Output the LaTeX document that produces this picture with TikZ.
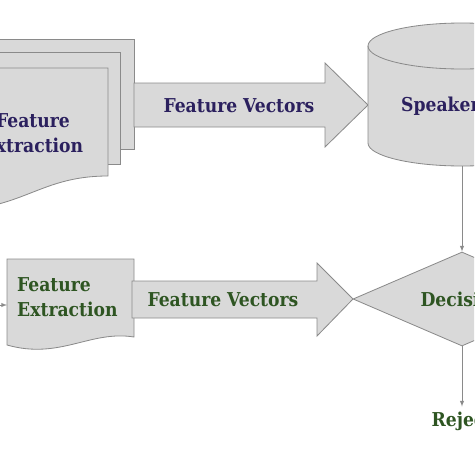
\documentclass[tikz,border=0pt]{standalone}
\usepackage{fontspec}
\setmainfont{DejaVu Serif Condensed}
\usepackage{tikz}
\usetikzlibrary{shapes.geometric}
\usetikzlibrary{arrows}
\definecolor{boxfill}{HTML}{D9D9D9}
\definecolor{boxline}{HTML}{8A8A8A}
\definecolor{enrolltext}{HTML}{2B205E}
\definecolor{testtext}{HTML}{2E5522}
\tikzset{
  flow_text/.style = {font=\fontsize{16.3}{21}\selectfont\bfseries, inner sep=0pt},
  enroll_text/.style = {flow_text, text=enrolltext},% phase d'enrolement
  test_text/.style = {flow_text, text=testtext},% phase de test
  sheet/.style = {draw=boxline, fill=boxfill, line width=0.7pt},
  decision_node/.style = {sheet, diamond, aspect=2.3, inner sep=0pt,
    minimum width=6.54cm, minimum height=2.82cm, test_text},% losange
  flow_arrow/.style = {draw=boxline, line width=0.7pt, -latex}
}
\begin{document}
\begin{tikzpicture}[x=0.03cm, y=-0.03cm]
  \useasboundingbox (0,0) rectangle (474,474);
  \clip (0,0) rectangle (474,474);
  % enrolement
  \draw[sheet] (-60,39) rectangle (134,149);
  \draw[sheet] (-60,52) rectangle (120,164);
  \draw[sheet] (-60,68) -- (108,68) -- (108,176)
    .. controls (50,176) and (30,200) .. (-20,208) -- (-60,210) -- cycle;
  \node[enroll_text, align=center] (enroll_fe) at (33,133) {Feature\\Extraction};
  \draw[sheet] (134,83) -- (325,83) -- (325,63) -- (368,105) -- (325,147)
    -- (325,127) -- (134,127) -- cycle;
  \node[enroll_text] (enroll_fv) at (239,106) {Feature Vectors};
  \draw[sheet] (368,46) -- (368,143) arc[start angle=180, end angle=0, x radius=94, y radius=23]
    -- (556,46) arc[start angle=0, end angle=-180, x radius=94, y radius=23] -- cycle;
  \draw[sheet, fill=none] (368,46) arc[start angle=180, end angle=0, x radius=94, y radius=23];
  \node[enroll_text, anchor=base west] (models) at (401,111) {Speaker Models};
  \coordinate (models_out) at (462,166);
  % test
  \draw[sheet] (7,259) -- (134,259) -- (134,337)
    .. controls (90,330) and (60,360) .. (7,345) -- cycle;
  \node[test_text, align=left, anchor=west] (test_fe) at (17,297) {Feature\\Extraction};
  \coordinate (test_in) at (-10,305);
  \coordinate (test_doc) at (7,305);
  \draw[sheet] (132,281) -- (317,281) -- (317,263) -- (353,299) -- (317,336)
    -- (317,318) -- (132,318) -- cycle;
  \node[test_text] (test_fv) at (223,300) {Feature Vectors};
  \node[decision_node] (decision) at (462,299) {Decision};
  \node[test_text, anchor=base, inner sep=4pt] (reject) at (462,426) {Reject};
  % liaisons
  \draw[flow_arrow] (models_out) -- (decision.north);
  \draw[flow_arrow] (decision.south) -- (reject.north);
  \draw[flow_arrow] (test_in) -- (test_doc);
\end{tikzpicture}
\end{document}
